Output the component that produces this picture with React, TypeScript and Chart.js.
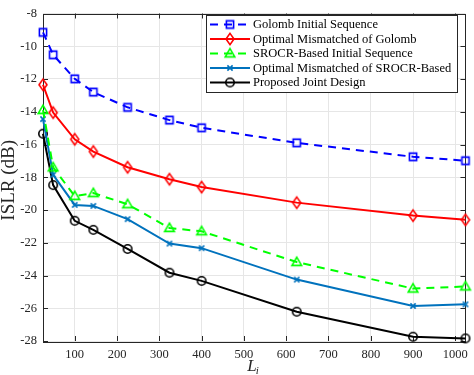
import { useEffect, useRef } from 'react';
import { Chart, registerables } from 'chart.js';

Chart.register(...registerables);

const xValues = [25, 49, 100, 144, 225, 324, 400, 625, 900, 1024];
const golombInitial = [-9.15, -10.52, -11.99, -12.8, -13.73, -14.51, -14.98, -15.9, -16.75, -16.99];
const golombMismatched = [-12.35, -14.05, -15.68, -16.43, -17.39, -18.12, -18.6, -19.55, -20.34, -20.6];
const srocrInitial = [-13.9, -17.4, -19.15, -18.97, -19.65, -21.1, -21.3, -23.18, -24.8, -24.67];
const srocrMismatched = [-14.45, -17.85, -19.69, -19.75, -20.56, -22.05, -22.33, -24.25, -25.86, -25.76];
const jointDesign = [-15.34, -18.48, -20.66, -21.21, -22.38, -23.83, -24.33, -26.21, -27.74, -27.84];

const seriesNames = [
  'Golomb Initial Sequence',
  'Optimal Mismatched of Golomb',
  'SROCR-Based Initial Sequence',
  'Optimal Mismatched of SROCR-Based',
  'Proposed Joint Design',
];
const xTicks = [100, 200, 300, 400, 500, 600, 700, 800, 900, 1000];
const yTicks = [-28, -26, -24, -22, -20, -18, -16, -14, -12, -10, -8];
const xTitle = 'L';
const xTitleSub = 'i';
const yTitle = 'ISLR (dB)';

const SERIF = '"Liberation Serif", "DejaVu Serif", serif';
const AXIS_COLOR = '#262626';

function makeMarker(style: string, color: string): HTMLCanvasElement {
  const S = 16;
  const c = document.createElement('canvas');
  c.width = S;
  c.height = S;
  const ctx = c.getContext('2d') as CanvasRenderingContext2D;
  const x = S / 2, y = S / 2;
  ctx.strokeStyle = color;
  ctx.lineWidth = 1.6;
  ctx.beginPath();
  if (style === 'square') {
    ctx.rect(x - 3.6, y - 3.6, 7.2, 7.2);
  } else if (style === 'diamond') {
    ctx.moveTo(x, y - 5.6);
    ctx.lineTo(x + 4, y);
    ctx.lineTo(x, y + 5.6);
    ctx.lineTo(x - 4, y);
    ctx.closePath();
  } else if (style === 'triangle') {
    ctx.moveTo(x, y - 4.8);
    ctx.lineTo(x + 4.8, y + 3.4);
    ctx.lineTo(x - 4.8, y + 3.4);
    ctx.closePath();
  } else if (style === 'cross') {
    const d = 2.6;
    ctx.moveTo(x - d, y - d);
    ctx.lineTo(x + d, y + d);
    ctx.moveTo(x + d, y - d);
    ctx.lineTo(x - d, y + d);
  } else {
    ctx.arc(x, y, 4.2, 0, Math.PI * 2);
  }
  ctx.stroke();
  return c;
}

const framePlugin = {
  id: 'frame',
  beforeDatasetsDraw(chart: any) {
    const { ctx, chartArea: a, scales } = chart;
    ctx.save();
    ctx.strokeStyle = AXIS_COLOR;
    ctx.lineWidth = 1;
    const tl = 5;
    ctx.beginPath();
    xTicks.forEach((v) => {
      const x = Math.round(scales.x.getPixelForValue(v)) + 0.5;
      ctx.moveTo(x, a.bottom);
      ctx.lineTo(x, a.bottom - tl);
      ctx.moveTo(x, a.top);
      ctx.lineTo(x, a.top + tl);
    });
    yTicks.forEach((v) => {
      const y = Math.round(scales.y.getPixelForValue(v)) + 0.5;
      ctx.moveTo(a.left, y);
      ctx.lineTo(a.left + tl, y);
      ctx.moveTo(a.right, y);
      ctx.lineTo(a.right - tl, y);
    });
    ctx.stroke();
    ctx.strokeRect(Math.round(a.left) + 0.5, Math.round(a.top) + 0.5, Math.round(a.right - a.left), Math.round(a.bottom - a.top));
    ctx.restore();
  },
  afterDraw(chart: any) {
    const { ctx, chartArea: a } = chart;
    ctx.save();
    ctx.fillStyle = AXIS_COLOR;
    ctx.font = `italic 17px ${SERIF}`;
    ctx.textBaseline = 'alphabetic';
    ctx.textAlign = 'left';
    const cx = 254;
    const lw = ctx.measureText(xTitle).width;
    ctx.fillText(xTitle, cx - lw / 2 - 2, 371);
    ctx.font = `italic 11px ${SERIF}`;
    ctx.fillText(xTitleSub, cx - lw / 2 - 2 + lw - 1, 374);

    ctx.save();
    ctx.translate(9, (a.top + a.bottom) / 2 + 3);
    ctx.rotate(-Math.PI / 2);
    ctx.font = `19px ${SERIF}`;
    ctx.textAlign = 'center';
    ctx.textBaseline = 'middle';
    ctx.fillText(yTitle, 0, 0);
    ctx.restore();

    const lx = 206, ly = 15, lwid = 251, lh = 77;
    ctx.fillStyle = '#ffffff';
    ctx.fillRect(lx, ly, lwid, lh);
    ctx.strokeStyle = AXIS_COLOR;
    ctx.lineWidth = 1;
    ctx.strokeRect(lx + 0.5, ly + 0.5, lwid, lh);
    chart.data.datasets.forEach((ds: any, i: number) => {
      const y = ly + 9.5 + i * 14.5;
      ctx.save();
      ctx.strokeStyle = ds.borderColor;
      ctx.lineWidth = ds.borderWidth;
      ctx.setLineDash(ds.borderDash || []);
      ctx.beginPath();
      ctx.moveTo(lx + 4, y);
      ctx.lineTo(lx + 44, y);
      ctx.stroke();
      ctx.setLineDash([]);
      const m = ds.pointStyle as HTMLCanvasElement;
      ctx.drawImage(m, lx + 24 - m.width / 2, y - m.height / 2);
      ctx.restore();
      ctx.fillStyle = '#000000';
      ctx.font = `12.5px ${SERIF}`;
      ctx.textAlign = 'left';
      ctx.textBaseline = 'middle';
      ctx.fillText(seriesNames[i], lx + 47, y + 0.5);
    });
    ctx.restore();
  },
};

function makeData(values: number[]) {
  return xValues.map((x, i) => ({ x, y: values[i] }));
}

export default function App() {
  const canvasRef = useRef<HTMLCanvasElement | null>(null);

  useEffect(() => {
    if (!canvasRef.current) return;
    const common = {
      borderWidth: 2,
      pointRadius: 5,
      clip: false as any,
      tension: 0,
    };
    const chart = new Chart(canvasRef.current, {
      type: 'line',
      data: {
        datasets: [
          { ...common, label: seriesNames[0], data: makeData(golombInitial), borderColor: '#0000ff', borderDash: [8, 6], pointStyle: makeMarker('square', '#0000ff') },
          { ...common, label: seriesNames[1], data: makeData(golombMismatched), borderColor: '#ff0000', pointStyle: makeMarker('diamond', '#ff0000') },
          { ...common, label: seriesNames[2], data: makeData(srocrInitial), borderColor: '#00ff00', borderDash: [8, 6], pointStyle: makeMarker('triangle', '#00ff00') },
          { ...common, label: seriesNames[3], data: makeData(srocrMismatched), borderColor: '#0072bd', pointStyle: makeMarker('cross', '#0072bd') },
          { ...common, label: seriesNames[4], data: makeData(jointDesign), borderColor: '#000000', pointStyle: makeMarker('circle', '#000000') },
        ],
      },
      options: {
        animation: false,
        responsive: false,
        maintainAspectRatio: false,
        layout: { padding: { top: 5, right: 7, left: 0, bottom: 0 } },
        plugins: { legend: { display: false }, tooltip: { enabled: false } },
        scales: {
          x: {
            type: 'linear',
            min: 25,
            max: 1024,
            afterBuildTicks: (scale: any) => { scale.ticks = xTicks.map((v) => ({ value: v })); },
            afterFit: (scale: any) => { scale.height = 34; },
            grid: { color: '#e6e6e6', drawTicks: false, lineWidth: 1 },
            border: { display: false },
            ticks: { color: AXIS_COLOR, font: { family: SERIF, size: 12.5 }, padding: 6, maxRotation: 0, autoSkip: false, callback: (v: any) => String(v) },
          },
          y: {
            type: 'linear',
            min: -28,
            max: -8,
            afterBuildTicks: (scale: any) => { scale.ticks = yTicks.map((v) => ({ value: v })); },
            afterFit: (scale: any) => { scale.width = 43; },
            grid: { color: '#e6e6e6', drawTicks: false, lineWidth: 1 },
            border: { display: false },
            ticks: { color: AXIS_COLOR, font: { family: SERIF, size: 12.5 }, padding: 6, autoSkip: false, callback: (v: any) => String(v) },
          },
        },
      },
      plugins: [framePlugin],
    } as any);
    return () => chart.destroy();
  }, []);

  return (
    <div style={{ position: 'fixed', left: 0, top: 0, width: 474, height: 375, background: '#fff' }}>
      <canvas ref={canvasRef} width={474} height={375} style={{ width: 474, height: 375 }} />
    </div>
  );
}
